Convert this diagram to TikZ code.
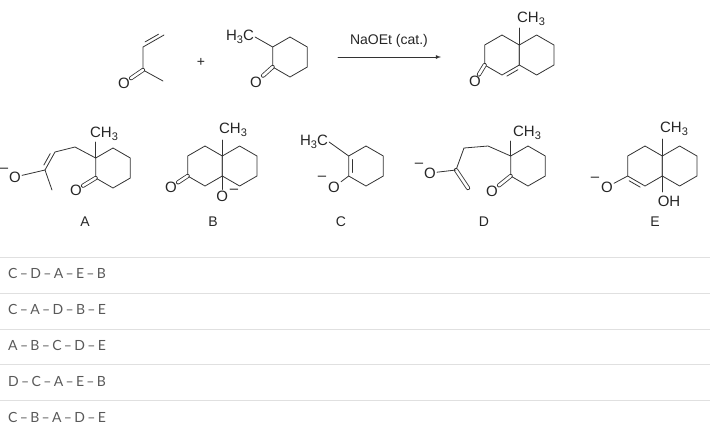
\documentclass[tikz,border=0pt]{standalone}
\usepackage{fontspec}
\setmainfont{Liberation Sans}
\newfontfamily\optfont{Lato}
\usetikzlibrary{calc}
\newcommand{\sub}[1]{\raisebox{-2.5pt}{\fontsize{11}{11}\selectfont #1}}
\tikzset{
  bond/.style={line width=0.8pt, line cap=round, draw=black!80},
  atom/.style={inner sep=1pt, text=black!85, font=\fontsize{15}{15}\selectfont},
  lbl/.style={inner sep=0pt, text=black!85, font=\fontsize{14}{14}\selectfont},
  opt/.style={anchor=west, inner sep=0pt, text=black!65, font=\optfont\fontsize{14}{14}\selectfont},
  sep/.style={draw=black!12, line width=0.8pt},
  dbl/.style={bond, double, double distance=2.6pt}
}
\newcommand{\hexring}[2]{\draw[bond] (#1,#2) ++(0,-20) -- ++(17.32,10) -- ++(0,20) -- ++(-17.32,10) -- ++(-17.32,-10) -- ++(0,-20) -- cycle;}
\newcommand{\innerb}[3]{\draw[bond] ($(#1)!.18!(#2)!3.4pt!#3:(#2)$) -- ($(#2)!.18!(#1)!3.4pt!-#3:(#1)$);}
\begin{document}
\begin{tikzpicture}[x=1pt,y=-1pt]
\useasboundingbox (0,0) rectangle (726,432);
% ---------- top: MVK ----------
\coordinate (m1) at (164,35); \coordinate (m2) at (143,47); \coordinate (m3) at (143,70); \coordinate (m4) at (163,81);
\node[atom] (mo) at (124,83) {O};
\draw[bond] (m1) -- (m2) -- (m3) -- (m4);
\innerb{m2}{m1}{90}
\draw[dbl] (m3) -- (mo);
\node[lbl] (plus) at (201,62) {+};
% ---------- top: 2-methylcyclohexanone ----------
\hexring{290}{57}
\node[atom] (th3c) at (240,37) {H\sub{3}C};
\node[atom] (to) at (256,82) {O};
\draw[bond] (272.68,47) -- (th3c.east);
\draw[dbl] (272.68,67) -- (to);
% arrow
\coordinate (ar1) at (338,57); \coordinate (ar2) at (441,57);
\draw[bond,-latex] (ar1) -- (ar2);
\node[lbl] (cond) at (389,41) {NaOEt (cat.)};
% ---------- product ----------
\hexring{502}{55}
\hexring{536.64}{55}
\node[atom] (pch3) at (531,19) {CH\sub{3}};
\draw[bond] (519.32,45) -- (519.32,28);
\coordinate (pb1) at (519.32,65); \coordinate (pb2) at (502,75);
\innerb{pb1}{pb2}{90}
\node[atom] (po) at (475,81) {O};
\draw[dbl] (484.68,65) -- (po);
% ---------- A ----------
\hexring{113}{168}
\node[atom] (ach3) at (104,134) {CH\sub{3}};
\draw[bond] (95.68,158) -- (95.68,142);
\coordinate (a0) at (95.68,158); \coordinate (a1) at (75,147); \coordinate (a2) at (55,152); \coordinate (a3) at (45,170); \coordinate (a4) at (52,190);
\draw[bond] (a0) -- (a1) -- (a2) -- (a3) -- (a4);
\innerb{a2}{a3}{-90}
\node[atom] (ao) at (15,177) {O};
\node[atom] (aneg) at (4,170) {–};
\draw[bond] (a3) -- (ao);
\node[atom] (aco) at (76,190) {O};
\draw[dbl] (95.68,178) -- (aco);
\node[lbl] (la) at (85,222) {A};
% ---------- B ----------
\hexring{205}{166}
\hexring{239.64}{166}
\node[atom] (bch3) at (233,130) {CH\sub{3}};
\draw[bond] (222.32,156) -- (222.32,140);
\node[atom] (bo) at (222.32,196) {O};
\node[atom] (bneg) at (234,191) {–};
\draw[bond] (222.32,176) -- (bo);
\node[atom] (bco) at (171,187) {O};
\draw[dbl] (187.68,176) -- (bco);
\node[lbl] (lb) at (213,222) {B};
% ---------- C ----------
\hexring{366}{166}
\coordinate (c1) at (348.68,156); \coordinate (c2) at (348.68,176);
\innerb{c1}{c2}{90}
\node[atom] (ch3c) at (314,142) {H\sub{3}C};
\draw[bond] (c1) -- (ch3c.east);
\node[atom] (co) at (334,187) {O};
\node[atom] (cneg) at (322,178) {–};
\draw[bond] (c2) -- (co);
\node[lbl] (lc) at (341,222) {C};
% ---------- D ----------
\hexring{528}{166}
\node[atom] (dch3) at (527,133) {CH\sub{3}};
\draw[bond] (510.68,156) -- (510.68,141);
\coordinate (d0) at (510.68,156); \coordinate (d1) at (488,146); \coordinate (d2) at (464,148); \coordinate (d3) at (456,170); \coordinate (d4) at (468,188);
\draw[bond] (d0) -- (d1) -- (d2) -- (d3);
\draw[dbl] (d3) -- (d4);
\node[atom] (do) at (430,173) {O};
\node[atom] (dneg) at (419,165) {–};
\draw[bond] (d3) -- (do);
\node[atom] (dco) at (492,191) {O};
\draw[dbl] (510.68,176) -- (dco);
\node[lbl] (ld) at (484,222) {D};
% ---------- E ----------
\hexring{645}{166}
\hexring{679.64}{166}
\node[atom] (ech3) at (674,129) {CH\sub{3}};
\draw[bond] (662.32,156) -- (662.32,139);
\node[atom] (eoh) at (669,201) {OH};
\draw[bond] (662.32,176) -- (662.32,192);
\coordinate (e1) at (627.68,176); \coordinate (e2) at (645,186);
\innerb{e1}{e2}{-90}
\node[atom] (eo) at (607,187) {O};
\node[atom] (eneg) at (595,179) {–};
\draw[bond] (e1) -- (eo);
\node[lbl] (le) at (655,222) {E};
% ---------- options ----------
\foreach \yy in {257,293,329,364,400} \draw[sep] (0,\yy) -- (710,\yy);
\node[opt] (o1) at (8,273) {C\,–\,D\,–\,A\,–\,E\,–\,B};
\node[opt] (o2) at (8,309) {C\,–\,A\,–\,D\,–\,B\,–\,E};
\node[opt] (o3) at (8,345) {A\,–\,B\,–\,C\,–\,D\,–\,E};
\node[opt] (o4) at (8,381) {D\,–\,C\,–\,A\,–\,E\,–\,B};
\node[opt] (o5) at (8,417) {C\,–\,B\,–\,A\,–\,D\,–\,E};
\end{tikzpicture}
\end{document}
